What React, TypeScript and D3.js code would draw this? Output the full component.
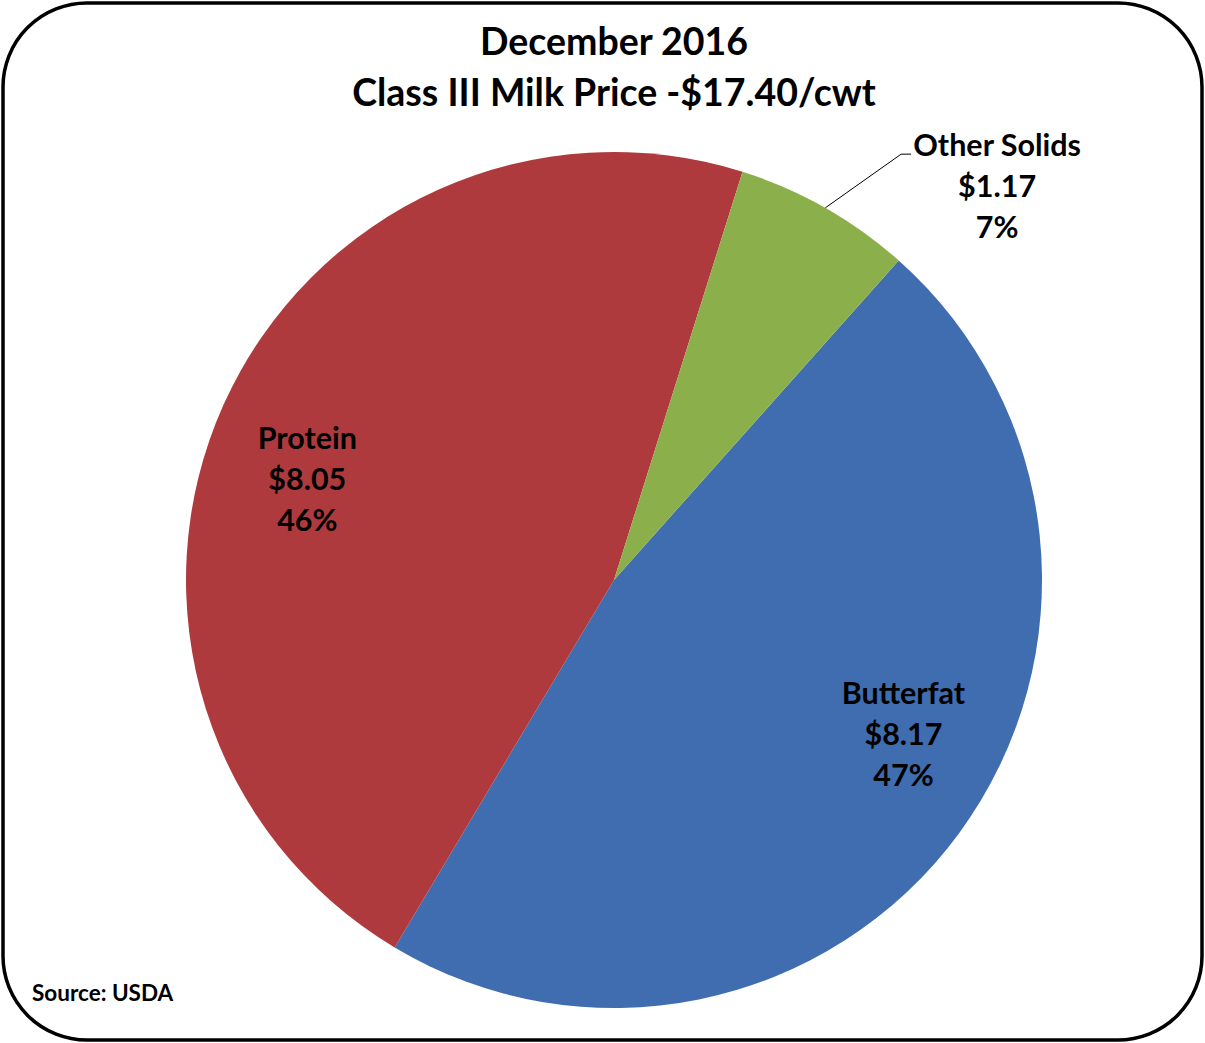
import * as d3 from 'd3';

const CATEGORIES = ['Butterfat', 'Protein', 'Other Solids'];
const VALUES = [8.17, 8.05, 1.17];
const COLORS = ['#3F6DAF', '#AF3A3E', '#8BB04B'];
const TITLE_LINES = ['December 2016', 'Class III Milk Price -$17.40/cwt'];
const SOURCE = 'Source: USDA';

const W = 1205;
const H = 1043;
const FONT = 'Lato, "Open Sans", sans-serif';

// label placement: inside labels sit on a ring, the small slice gets a leader line
const LABEL_LAYOUT: Record<string, { inside: boolean; ring: number; nudgeDeg: number }> = {
  Butterfat: { inside: true, ring: 0.765, nudgeDeg: -8.4 },
  Protein: { inside: true, ring: 0.755, nudgeDeg: -5.8 },
  'Other Solids': { inside: false, ring: 1.2, nudgeDeg: 4.4 },
};

interface Slice {
  name: string;
  value: number;
  color: string;
}

export default function App() {
  const cx = 614;
  const cy = 580;
  const r = 428;

  const data: Slice[] = CATEGORIES.map((name, i) => ({ name, value: VALUES[i], color: COLORS[i] }));
  const total = d3.sum(VALUES);

  const pie = d3.pie<Slice>()
    .value(d => d.value)
    .sort(null)
    .startAngle((41.7 * Math.PI) / 180)
    .endAngle((41.7 * Math.PI) / 180 + 2 * Math.PI);

  const arcs = pie(data);
  const arcGen = d3.arc<d3.PieArcDatum<Slice>>().innerRadius(0).outerRadius(r);

  const pct = d3.format('.0%');
  const money = d3.format('$.2f');
  const polar = (angle: number, radius: number): [number, number] => [
    Math.sin(angle) * radius,
    -Math.cos(angle) * radius,
  ];

  const lineGap = 41;
  const labelSize = 30.5;

  return (
    <svg width={W} height={H} style={{ position: 'absolute', left: 0, top: 0 }} fontFamily={FONT}>
      <rect x={0} y={0} width={W} height={H} fill="#fff" />
      <rect x={3} y={3} width={W - 6} height={H - 6} rx={84} ry={84} fill="none" stroke="#000" strokeWidth={3.5} />

      {TITLE_LINES.map((t, i) => (
        <text
          key={t}
          x={614} y={55 + i * 51}
          textAnchor="middle"
          fontSize={37.5} fontWeight={700} fill="#000"
        >
          {t}
        </text>
      ))}

      <g transform={`translate(${cx},${cy})`}>
        {arcs.map(a => (
          <path key={a.data.name} d={arcGen(a) ?? ''} fill={a.data.color} />
        ))}

        {arcs.map(a => {
          const lay = LABEL_LAYOUT[a.data.name];
          const mid = (a.startAngle + a.endAngle) / 2;
          const lines = [a.data.name, money(a.data.value), pct(a.data.value / total)];

          if (lay.inside) {
            const [lx, ly] = polar(mid + (lay.nudgeDeg * Math.PI) / 180, r * lay.ring);
            return (
              <g key={`lab-${a.data.name}`}>
                {lines.map((t, i) => (
                  <text
                    key={i}
                    x={lx} y={ly + (i - 1) * lineGap}
                    textAnchor="middle" dominantBaseline="central"
                    fontSize={labelSize} fontWeight={700} fill="#000"
                  >
                    {t}
                  </text>
                ))}
              </g>
            );
          }

          // leader line from slice edge to an elbow, then short horizontal
          const [sx, sy] = polar(mid, r);
          const [ex, ey] = polar(mid + (lay.nudgeDeg * Math.PI) / 180, r * lay.ring);
          const tx = ex + 10;
          const labelX = tx + 86;
          return (
            <g key={`lab-${a.data.name}`}>
              <polyline
                points={`${sx},${sy} ${ex},${ey} ${tx},${ey}`}
                fill="none" stroke="#000" strokeWidth={1}
              />
              {lines.map((t, i) => (
                <text
                  key={i}
                  x={labelX} y={ey - 10 + i * lineGap}
                  textAnchor="middle" dominantBaseline="central"
                  fontSize={labelSize} fontWeight={700} fill="#000"
                >
                  {t}
                </text>
              ))}
            </g>
          );
        })}
      </g>

      <text x={32} y={1001} fontSize={22.5} fontWeight={700} fill="#000">
        {SOURCE}
      </text>
    </svg>
  );
}
